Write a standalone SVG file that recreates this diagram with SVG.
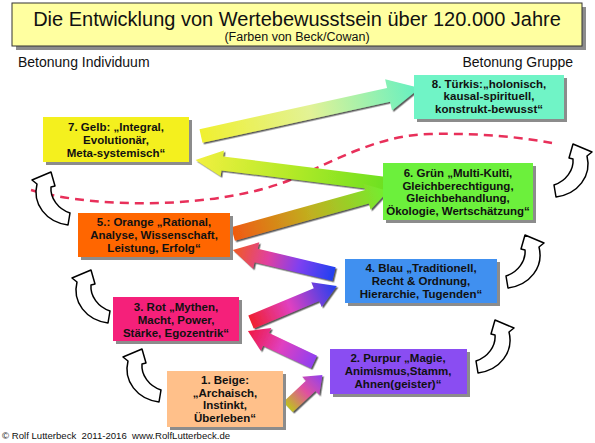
<svg xmlns="http://www.w3.org/2000/svg" width="595" height="443" viewBox="0 0 595 443">
<style>
.t{font-family:"Liberation Sans",Arial,sans-serif;fill:#111}
.bx{font-family:"Liberation Sans",Arial,sans-serif;font-weight:bold;font-size:11.5px;fill:#111;text-anchor:middle}
.sh{fill:#8c8c8c}
.curl{fill:#fff;stroke:#000;stroke-width:1.5;stroke-linejoin:round}
.dash{fill:none;stroke:#E8305A;stroke-width:2.5;stroke-dasharray:9 6}
</style>
<defs>
<filter id="ash" x="-10%" y="-30%" width="130%" height="160%">
<feDropShadow dx="1.5" dy="1.5" stdDeviation="0.6" flood-color="#333" flood-opacity="0.8"/>
</filter>
<path id="curlp" class="curl" d="M5 12 L0 8 L19 0 L23 14 L19 15 C18 26 26 37 38 41 L36 53 C14 50 0 32 5 12 Z"/>
<linearGradient id="g7"><stop offset="0" stop-color="#F0F030"/><stop offset="0.5" stop-color="#E2F296"/><stop offset="1" stop-color="#62F0C2"/></linearGradient>
<linearGradient id="g6"><stop offset="0" stop-color="#6CE020"/><stop offset="0.5" stop-color="#B4EA28"/><stop offset="1" stop-color="#F2F040"/></linearGradient>
<linearGradient id="g5"><stop offset="0" stop-color="#F05A10"/><stop offset="0.5" stop-color="#C0B020"/><stop offset="1" stop-color="#70F030"/></linearGradient>
<linearGradient id="g4"><stop offset="0" stop-color="#2040F0"/><stop offset="0.35" stop-color="#8040F0"/><stop offset="0.65" stop-color="#E040A0"/><stop offset="1" stop-color="#F05A20"/></linearGradient>
<linearGradient id="g3"><stop offset="0" stop-color="#F02030"/><stop offset="0.45" stop-color="#E040C0"/><stop offset="1" stop-color="#2040F0"/></linearGradient>
<linearGradient id="g2"><stop offset="0" stop-color="#9040F0"/><stop offset="0.5" stop-color="#E040C0"/><stop offset="1" stop-color="#F01840"/></linearGradient>
<linearGradient id="g1"><stop offset="0" stop-color="#C0C020"/><stop offset="0.5" stop-color="#E050A0"/><stop offset="1" stop-color="#9040F0"/></linearGradient>
</defs>

<rect width="595" height="443" fill="#fff"/>

<g id="title">
<rect x="16" y="7" width="570" height="43" class="sh"/>
<rect x="12" y="3" width="570" height="43" fill="#FFFFA0" stroke="#333" stroke-width="1"/>
<text class="t" x="297" y="26" font-size="20" text-anchor="middle">Die Entwicklung von Wertebewusstsein über 120.000 Jahre</text>
<text class="t" x="297" y="41" font-size="12.5" text-anchor="middle">(Farben von Beck/Cowan)</text>
</g>
<text class="t" x="18" y="67" font-size="14">Betonung Individuum</text>
<text class="t" x="573" y="67" font-size="14" text-anchor="end">Betonung Gruppe</text>

<path class="dash" d="M31 190 C100 210 220 208 290 180 C340 158 380 135 430 134 C480 133 520 137 552 143"/>

<g id="connectors" filter="url(#ash)">
<g transform="translate(201,136) rotate(-12.36)"><polygon fill="url(#g7)" points="0,-7 192,-7 192,-16 224,0 192,16 192,7 0,7"/></g>
<g transform="translate(386,184) rotate(187.16)"><polygon fill="url(#g6)" points="0,-7 165,-7 165,-13 192,0 165,13 165,7 0,7"/></g>
<g transform="translate(233,234) rotate(-15.5)"><polygon fill="url(#g5)" points="0,-7 139,-7 139,-13.5 161,0 139,13.5 139,7 0,7"/></g>
<g transform="translate(334,274) rotate(193.37)"><polygon fill="url(#g4)" points="0,-7 80,-7 80,-13.5 104,0 80,13.5 80,7 0,7"/></g>
<g transform="translate(251,322) rotate(-22.7)"><polygon fill="url(#g3)" points="0,-7 71,-7 71,-13.5 93,0 71,13.5 71,7 0,7"/></g>
<g transform="translate(314,362) rotate(205.2)"><polygon fill="url(#g2)" points="0,-7 53,-7 53,-12.5 73,0 53,12.5 53,7 0,7"/></g>
<g transform="translate(288,407) rotate(-43)"><polygon fill="url(#g1)" points="0,-7 31,-7 31,-12.5 47,0 31,12.5 31,7 0,7"/></g>
</g>

<g id="n8">
<rect x="417" y="78" width="150" height="44" class="sh"/>
<rect x="414" y="75" width="150" height="44" fill="#70F4C6"/>
<text class="bx" x="489" y="88">8. Türkis:„holonisch,</text>
<text class="bx" x="489" y="100">kausal-spirituell,</text>
<text class="bx" x="489" y="113">konstrukt-bewusst“</text>
</g>
<g id="n7">
<rect x="46" y="120" width="146" height="45" class="sh"/>
<rect x="43" y="117" width="146" height="45" fill="#F4F01E"/>
<text class="bx" x="116" y="131">7. Gelb: „Integral,</text>
<text class="bx" x="116" y="144">Evolutionär,</text>
<text class="bx" x="116" y="157">Meta-systemisch“</text>
</g>
<g id="n6">
<rect x="386" y="166" width="150" height="57" class="sh"/>
<rect x="383" y="163" width="150" height="57" fill="#6CF03C"/>
<text class="bx" x="458" y="177">6. Grün „Multi-Kulti,</text>
<text class="bx" x="458" y="190">Gleichberechtigung,</text>
<text class="bx" x="458" y="202">Gleichbehandlung,</text>
<text class="bx" x="458" y="215">Ökologie, Wertschätzung“</text>
</g>
<g id="n5">
<rect x="81" y="216" width="152" height="44" class="sh"/>
<rect x="78" y="213" width="152" height="44" fill="#FF6600"/>
<text class="bx" x="154" y="226">5.: Orange „Rational,</text>
<text class="bx" x="154" y="239">Analyse, Wissenschaft,</text>
<text class="bx" x="154" y="252">Leistung, Erfolg“</text>
</g>
<g id="n4">
<rect x="348" y="262" width="152" height="44" class="sh"/>
<rect x="345" y="259" width="152" height="44" fill="#4090F0"/>
<text class="bx" x="421" y="272">4. Blau „Traditionell,</text>
<text class="bx" x="421" y="285">Recht &amp; Ordnung,</text>
<text class="bx" x="421" y="298">Hierarchie, Tugenden“</text>
</g>
<g id="n3">
<rect x="116" y="300" width="126" height="44" class="sh"/>
<rect x="113" y="297" width="126" height="44" fill="#F5207A"/>
<text class="bx" x="176" y="311">3. Rot „Mythen,</text>
<text class="bx" x="176" y="324">Macht, Power,</text>
<text class="bx" x="176" y="337">Stärke, Egozentrik“</text>
</g>
<g id="n2">
<rect x="333" y="352" width="137" height="45" class="sh"/>
<rect x="330" y="349" width="137" height="45" fill="#8A4DF2"/>
<text class="bx" x="398" y="362">2. Purpur „Magie,</text>
<text class="bx" x="398" y="375">Animismus,Stamm,</text>
<text class="bx" x="398" y="388">Ahnen(geister)“</text>
</g>
<g id="n1">
<rect x="170" y="374" width="116" height="56" class="sh"/>
<rect x="167" y="371" width="116" height="56" fill="#FFC08A"/>
<text class="bx" x="225" y="384">1. Beige:</text>
<text class="bx" x="225" y="397">„Archaisch,</text>
<text class="bx" x="225" y="409">Instinkt,</text>
<text class="bx" x="225" y="422">Überleben“</text>
</g>

<g id="curls">
<use href="#curlp" transform="translate(32,172)"/>
<use href="#curlp" transform="translate(72,270)"/>
<use href="#curlp" transform="translate(123,349)"/>
<use href="#curlp" transform="translate(592,144) scale(-1,1)"/>
<use href="#curlp" transform="translate(544,235) scale(-1,1)"/>
<use href="#curlp" transform="translate(514,320) scale(-1,1)"/>
</g>

<text class="t" x="2" y="439" font-size="9.6" xml:space="preserve">© Rolf Lutterbeck  2011-2016  www.RolfLutterbeck.de</text>
</svg>
